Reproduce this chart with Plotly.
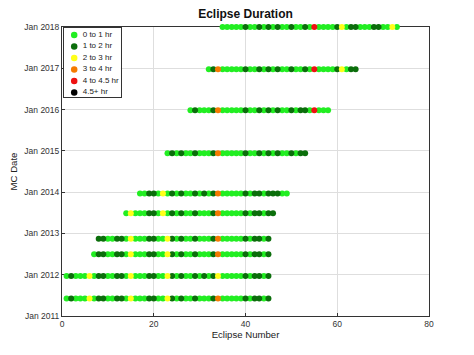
import plotly.graph_objects as go

# ---------------- data ----------------
categories = ["0 to 1 hr", "1 to 2 hr", "2 to 3 hr", "3 to 4 hr", "4 to 4.5 hr", "4.5+ hr"]
cat_colors = ["#22ee22", "#0b6e0b", "#ffff1a", "#f57a00", "#ee1111", "#000000"]

mc_dates = ["2011-06-05", "2011-12-22", "2012-06-30", "2012-11-15", "2013-06-28",
            "2013-12-20", "2014-12-12", "2015-12-26", "2016-12-24", "2018-01-01"]
first_eclipse = [1, 1, 7, 8, 14, 17, 23, 28, 32, 35]
# one digit per consecutive eclipse (index into categories)
duration_codes = [
    "01000" "20110" "01102" "00011" "00210" "10010" "00130" "00001" "01101",
    "01000" "20110" "01102" "00011" "00210" "10010" "10120" "00001" "01101",
    "0110" "01102" "00011" "00210" "10010" "00130" "00001" "01101",
    "110" "01102" "00011" "00210" "10010" "00130" "00001" "01101",
    "02000" "11020" "10100" "10001" "30000" "01011" "011",
    "00110" "20101" "00101" "01300" "00010" "11011" "100",
    "01010" "01000" "13000" "00100" "10101" "00101" "1",
    "01000" "13000" "00100" "10101" "00101" "10400" "0",
    "01300" "00010" "01010" "10010" "01040" "00012" "011",
    "00000" "10010" "10100" "10010" "40000" "12011" "00011" "0020",
]

x_ticks = [0, 20, 40, 60, 80]
y_tick_dates = ["2011-01-01", "2012-01-01", "2013-01-01", "2014-01-01",
                "2015-01-01", "2016-01-01", "2017-01-01", "2018-01-01"]
y_tick_text = ["Jan 2011", "Jan 2012", "Jan 2013", "Jan 2014",
               "Jan 2015", "Jan 2016", "Jan 2017", "Jan 2018"]

# ---------------- figure ----------------
FONT = "Liberation Sans, Arial, sans-serif"
fig = go.Figure()

for ci, cname in enumerate(categories):
    xs, ys = [], []
    for d, f, codes in zip(mc_dates, first_eclipse, duration_codes):
        for k, c in enumerate(codes):
            if int(c) == ci:
                xs.append(f + k)
                ys.append(d)
    fig.add_trace(go.Scatter(
        x=xs, y=ys, mode="markers", name=cname, showlegend=False,
        marker=dict(size=6, color=cat_colors[ci], line=dict(width=0)),
        cliponaxis=False,
    ))

# custom legend in an inset axis
fig.add_trace(go.Scatter(
    x=[0, 1, 1, 0, 0], y=[0, 0, 6, 6, 0], mode="lines", fill="toself",
    fillcolor="white", line=dict(width=0), xaxis="x2", yaxis="y2",
    showlegend=False, hoverinfo="skip"))
fig.add_trace(go.Scatter(
    x=[0.18] * len(categories), y=[i + 0.58 for i in range(len(categories))],
    mode="markers", marker=dict(size=6.5, color=cat_colors, line=dict(width=0)),
    xaxis="x2", yaxis="y2", showlegend=False, hoverinfo="skip"))
fig.add_trace(go.Scatter(
    x=[0.33] * len(categories), y=[i + 0.58 for i in range(len(categories))],
    mode="text", text=categories, textposition="middle right",
    textfont=dict(family=FONT, size=8, color="#222222"),
    xaxis="x2", yaxis="y2", showlegend=False, hoverinfo="skip"))

axis_common = dict(showline=True, mirror=True, linecolor="#333333", linewidth=1,
                   ticks="inside", ticklen=3, tickcolor="#333333",
                   showgrid=True, gridcolor="#dedede", gridwidth=1, zeroline=False,
                   layer="below traces",
                   tickfont=dict(family=FONT, size=8.5, color="#333333"))

fig.update_layout(
    width=474, height=355,
    margin=dict(l=62, r=45, t=27, b=39),
    paper_bgcolor="white", plot_bgcolor="white",
    font=dict(family=FONT, color="#222222"),
    showlegend=False,
    title=dict(text="<b>Eclipse Duration</b>", x=0.5, xref="paper", xanchor="center",
               y=1 - 13.5 / 355, yref="container", yanchor="middle",
               font=dict(family=FONT, size=12, color="#111111")),
    xaxis=dict(range=[0, 80], tickvals=x_ticks,
               title=dict(text="Eclipse Number", standoff=2,
                          font=dict(family=FONT, size=9.6, color="#222222")),
               **axis_common),
    yaxis=dict(type="date", range=["2011-01-01", "2018-01-01"],
               tickvals=y_tick_dates, ticktext=y_tick_text,
               title=dict(text="MC Date", standoff=4,
                          font=dict(family=FONT, size=9.6, color="#222222")),
               **axis_common),
    xaxis2=dict(domain=[2 / 367, 58.7 / 367], range=[0, 1], anchor="y2",
                showline=True, mirror=True, linecolor="#333333", linewidth=1,
                showgrid=False, zeroline=False, showticklabels=False, ticks="",
                fixedrange=True),
    yaxis2=dict(domain=[(316 - 97.3) / 289, (316 - 28.3) / 289], range=[6, 0], anchor="x2",
                showline=True, mirror=True, linecolor="#333333", linewidth=1,
                showgrid=False, zeroline=False, showticklabels=False, ticks="",
                fixedrange=True),
)

fig.write_html("out.html")
